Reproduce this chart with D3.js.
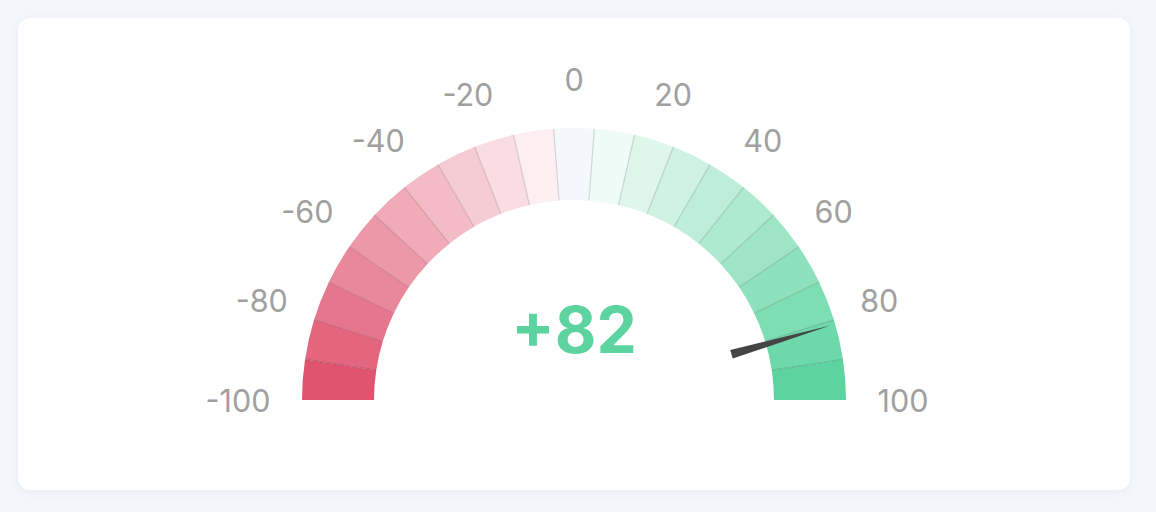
<!DOCTYPE html>
<html>
<head>
<meta charset="utf-8">
<script src="https://cdn.jsdelivr.net/npm/d3@7"></script>
<style>
  html, body { margin: 0; padding: 0; background: #f3f6fb; }
  body { width: 1156px; height: 512px; overflow: hidden; }
  #card {
    position: absolute; left: 18px; top: 18px; width: 1112px; height: 472px;
    background: #fff; border-radius: 12px;
    box-shadow: 0 2px 10px rgba(30, 50, 90, 0.05);
  }
  svg { position: absolute; left: 0; top: 0; }
  .tick-label { font-family: Inter, "Noto Sans", sans-serif; font-size: 30.5px; fill: #a0a0a0; }
  .value-label { font-family: Inter, "Noto Sans", sans-serif; font-size: 64px; font-weight: 700; }
</style>
</head>
<body>
<div id="card"></div>
<svg id="chart" width="1156" height="512"></svg>
<script>
// ─── Data ──────────────────────────────────────────────────────────────
const segmentValues = [-100, -90, -80, -70, -60, -50, -40, -30, -20, -10, 0,
                       10, 20, 30, 40, 50, 60, 70, 80, 90, 100];
const tickValues = [-100, -80, -60, -40, -20, 0, 20, 40, 60, 80, 100];
const needleValue = 82;

// ─── Layout ────────────────────────────────────────────────────────────
const cx = 574, cy = 400;
const outerR = 272, innerR = 200;
const NEG = "#e05470", POS = "#5dd4a0", NEUTRAL = "#f4f7fc";

const svg = d3.select("#chart");
const g = svg.append("g").attr("transform", `translate(${cx},${cy})`);

// angles: 0 = straight up, like d3.arc
const band = d3.scaleBand().domain(segmentValues).range([-Math.PI / 2, Math.PI / 2]);
const angle = d3.scaleLinear().domain([-100, 100]).range([-Math.PI / 2, Math.PI / 2]);

function segColor(v) {
  if (v === 0) return NEUTRAL;
  const t = Math.abs(v) / 100;
  return d3.interpolateRgb("#ffffff", v < 0 ? NEG : POS)(t);
}

const arc = d3.arc().innerRadius(innerR).outerRadius(outerR);

g.selectAll(".seg")
  .data(segmentValues)
  .join("path")
  .attr("class", "seg")
  .attr("d", v => arc({ startAngle: band(v), endAngle: band(v) + band.bandwidth() }))
  .attr("fill", segColor);

// separators between segments
g.selectAll(".sep")
  .data(segmentValues.slice(1))
  .join("line")
  .attr("class", "sep")
  .attr("x1", v => innerR * Math.sin(band(v)))
  .attr("y1", v => -innerR * Math.cos(band(v)))
  .attr("x2", v => outerR * Math.sin(band(v)))
  .attr("y2", v => -outerR * Math.cos(band(v)))
  .attr("stroke", "rgba(0,0,0,0.14)")
  .attr("stroke-width", 1.2);

// tick labels: the number sits on the circle, a minus sign hangs outside
const labelR = 321;
const probe = g.append("text").attr("class", "tick-label").text("-");
const minusW = probe.node().getComputedTextLength();
probe.remove();

g.selectAll(".tick-label")
  .data(tickValues)
  .join("text")
  .attr("class", "tick-label")
  .attr("text-anchor", "middle")
  .attr("dominant-baseline", "central")
  .text(d => d)
  .attr("x", d => {
    const s = Math.sin(angle(d));
    let x = labelR * s;
    if (d < 0) x -= minusW / 2;
    if (Math.abs(s) > 0.999) x += Math.sign(s) * 8; // clear the arc ends
    return x;
  })
  .attr("y", d => -labelR * Math.cos(angle(d)));

// needle
const na = angle(needleValue);
const baseR = 164, tipR = 267, halfW = 4.5;
const ux = Math.sin(na), uy = -Math.cos(na);
const px = -uy, py = ux;
const needle = [
  [baseR * ux + halfW * px, baseR * uy + halfW * py],
  [tipR * ux, tipR * uy],
  [baseR * ux - halfW * px, baseR * uy - halfW * py]
];
g.append("path")
  .attr("d", d3.line()(needle) + "Z")
  .attr("fill", "#454545");

// value
g.append("text")
  .attr("class", "value-label")
  .attr("text-anchor", "middle")
  .attr("x", 0)
  .attr("y", -47)
  .attr("fill", POS)
  .text((needleValue > 0 ? "+" : "") + needleValue);
</script>
</body>
</html>
